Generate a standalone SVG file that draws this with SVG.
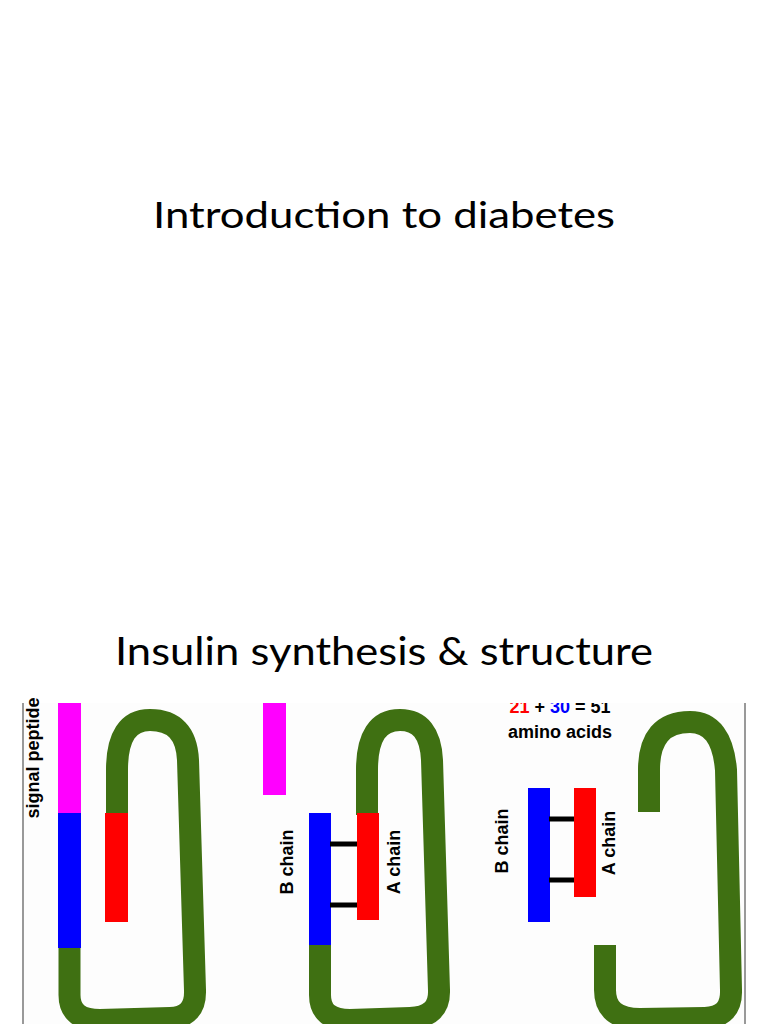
<svg xmlns="http://www.w3.org/2000/svg" width="768" height="1024" viewBox="0 0 768 1024">
<style>
.t{font-family:Lato,"Open Sans",sans-serif;fill:#000;text-anchor:middle}
.g{fill:none;stroke:#3f7012;stroke-width:22;stroke-linejoin:round}
.lab{font-family:"Liberation Sans",Arial,sans-serif;font-weight:bold;font-size:18px;fill:#000;text-anchor:middle}
.bar{stroke:#000;stroke-width:5}
</style>
<defs><clipPath id="c"><rect x="22" y="703" width="723" height="321"/></clipPath></defs>
<rect width="768" height="1024" fill="#fff"/>
<text class="t" x="384" y="228" font-size="37" textLength="462" lengthAdjust="spacingAndGlyphs">Introduction to diabetes</text>
<text class="t" x="384" y="665" font-size="38" textLength="538" lengthAdjust="spacingAndGlyphs">Insulin synthesis &amp; structure</text>
<g id="image">
<rect x="22" y="703" width="723" height="321" fill="#fdfdfd"/>
<line x1="23" y1="703" x2="23" y2="1024" stroke="#999" stroke-width="2"/>
<line x1="745" y1="703" x2="745" y2="1024" stroke="#999" stroke-width="2"/>
</g>
<g id="panel1">
<path class="g" d="M69.5,948 V995 Q69.5,1020 100,1020 L170,1018 Q196,1017 195,990 L188,760 Q186,720 150,720 Q117,720 117,770 V815"/>
<rect x="58" y="703" width="23" height="110" fill="#ff00ff"/>
<rect x="58" y="813" width="23" height="135" fill="#0000ff"/>
<rect x="105" y="813" width="23" height="109" fill="#ff0000"/>
<text class="lab" transform="translate(39,758) rotate(-90)" font-size="17">signal peptide</text>
</g>
<g id="panel2">
<path class="g" d="M320,945 V995 Q320,1020 350,1020 L410,1018 Q440,1017 439,990 L432,760 Q430,720 400,720 Q367,720 367,770 V815"/>
<rect x="263" y="703" width="23" height="92" fill="#ff00ff"/>
<rect x="309" y="813" width="22" height="132" fill="#0000ff"/>
<rect x="357" y="813" width="22" height="107" fill="#ff0000"/>
<line class="bar" x1="330" y1="844" x2="357" y2="844"/>
<line class="bar" x1="330" y1="905" x2="357" y2="905"/>
<text class="lab" transform="translate(293,862) rotate(-90)">B chain</text>
<text class="lab" transform="translate(400,862) rotate(-90)">A chain</text>
</g>
<g id="panel3">
<text class="lab" x="560" y="713" font-size="20" clip-path="url(#c)"><tspan fill="#ff0000">21</tspan> + <tspan fill="#0000ff">30</tspan> = 51</text>
<text class="lab" x="560" y="738" font-size="20">amino acids</text>
<rect x="528" y="788" width="22" height="134" fill="#0000ff"/>
<rect x="574" y="788" width="22" height="109" fill="#ff0000"/>
<line class="bar" x1="549" y1="819" x2="574" y2="819"/>
<line class="bar" x1="549" y1="880" x2="574" y2="880"/>
<text class="lab" transform="translate(508,841) rotate(-90)">B chain</text>
<text class="lab" transform="translate(615,843) rotate(-90)">A chain</text>
<path class="g" d="M649,812 V770 Q649,722 690,722 Q722,722 726,770 L731,990 Q732,1017 705,1018 L640,1019 Q605,1019 605,990 V945"/>
</g>
</svg>
